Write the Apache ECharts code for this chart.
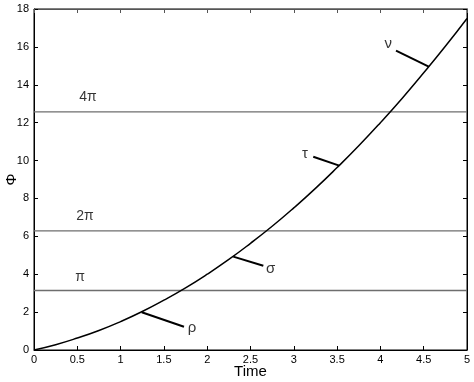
<!DOCTYPE html>
<html><head><meta charset="utf-8">
<script src="https://cdn.jsdelivr.net/npm/echarts@6/dist/echarts.min.js"></script>
<style>html,body{margin:0;padding:0;background:#fff}#c{width:474px;height:382px}</style>
</head><body><div id="c"></div>
<script>
var time = [0,0.25,0.5,0.75,1,1.25,1.5,1.75,2,2.25,2.5,2.75,3,3.25,3.5,3.75,4,4.25,4.5,4.75,5];
var phi = [0,0.28,0.63,1.03,1.5,2.03,2.63,3.28,4.0,4.78,5.63,6.53,7.5,8.53,9.63,10.78,12.0,13.28,14.63,16.03,17.5];
var levelValues = [3.1416, 6.2832, 12.5664];
var levelLabels = ['π','2π','4π'];
var levelLabelPos = [[0.531,3.87],[0.589,7.04],[0.624,13.36]];
var annotNames = ['ρ','σ','τ','ν'];
var annotFrom = [[1.244,1.99],[2.301,4.93],[3.225,10.20],[4.18,15.80]];
var annotTo = [[1.732,1.23],[2.648,4.45],[3.525,9.73],[4.558,14.96]];
var annotLabelPos = [[1.824,1.16],[2.733,4.26],[3.129,10.35],[4.091,16.14]];

var font = 'Liberation Sans, Arial, sans-serif';
var series = [];
series.push({type:'line', data: time.map(function(t,i){return [t,phi[i]];}), smooth:true, showSymbol:false,
  lineStyle:{color:'#000', width:1.5}, z:5});
levelValues.forEach(function(v){
  series.push({type:'line', data:[[0,v],[5,v]], showSymbol:false, lineStyle:{color:'#6e6e6e', width:1.3}, z:3});
});
annotFrom.forEach(function(p,i){
  series.push({type:'line', data:[p, annotTo[i]], showSymbol:false, lineStyle:{color:'#000', width:2}, z:4});
});
series.push({type:'scatter', symbolSize:0, data: levelLabelPos.map(function(p,i){return {value:p, name:levelLabels[i]};}),
  label:{show:true, position:'inside', formatter:'{b}', color:'#000', fontSize:14, fontFamily:font}});
series.push({type:'scatter', symbolSize:0, data: annotLabelPos.map(function(p,i){return {value:p, name:annotNames[i]};}),
  label:{show:true, position:'inside', formatter:'{b}', color:'#000', fontSize:15, fontFamily:font}});
series.push({type:'scatter', xAxisIndex:1, yAxisIndex:1, data:[[0,0]], symbolSize:0, silent:true});

var chart = echarts.init(document.getElementById('c'));
chart.setOption({
  animation:false,
  grid:{left:34, right:7, top:9, bottom:32, show:true, borderColor:'#000', borderWidth:1, backgroundColor:'transparent', containLabel:false, outerBoundsMode:'none'},
  xAxis:[{type:'value', min:0, max:5, interval:0.5, position:'bottom',
     name:'Time', nameLocation:'middle', nameGap:14, nameMoveOverlap:false, nameTextStyle:{fontSize:15, color:'#000', fontFamily:font},
     axisLine:{lineStyle:{color:'#000', width:1}}, axisTick:{inside:true, length:4, lineStyle:{color:'#000'}},
     axisLabel:{color:'#000', fontSize:11, fontFamily:font, margin:4}, splitLine:{show:false}},
    {type:'value', min:0, max:5, interval:0.5, position:'top', show:true,
     axisLine:{show:true, onZero:false, lineStyle:{color:'#555', width:1}}, axisTick:{show:true, inside:true, length:4, lineStyle:{color:'#555'}},
     axisLabel:{show:false}, splitLine:{show:false}}],
  yAxis:[{type:'value', min:0, max:18, interval:2, position:'left',
     name:'Φ', nameLocation:'middle', nameGap:15, nameMoveOverlap:false, nameRotate:90, nameTextStyle:{fontSize:15, color:'#000', fontFamily:font},
     axisLine:{lineStyle:{color:'#000', width:1}}, axisTick:{inside:true, length:4, lineStyle:{color:'#000'}},
     axisLabel:{color:'#000', fontSize:11, fontFamily:font, margin:5}, splitLine:{show:false}},
    {type:'value', min:0, max:18, interval:2, position:'right', show:true,
     axisLine:{show:true, onZero:false, lineStyle:{color:'#000', width:1}}, axisTick:{show:true, inside:true, length:4, lineStyle:{color:'#000'}},
     axisLabel:{show:false}, splitLine:{show:false}}],
  series: series
});
</script></body></html>
